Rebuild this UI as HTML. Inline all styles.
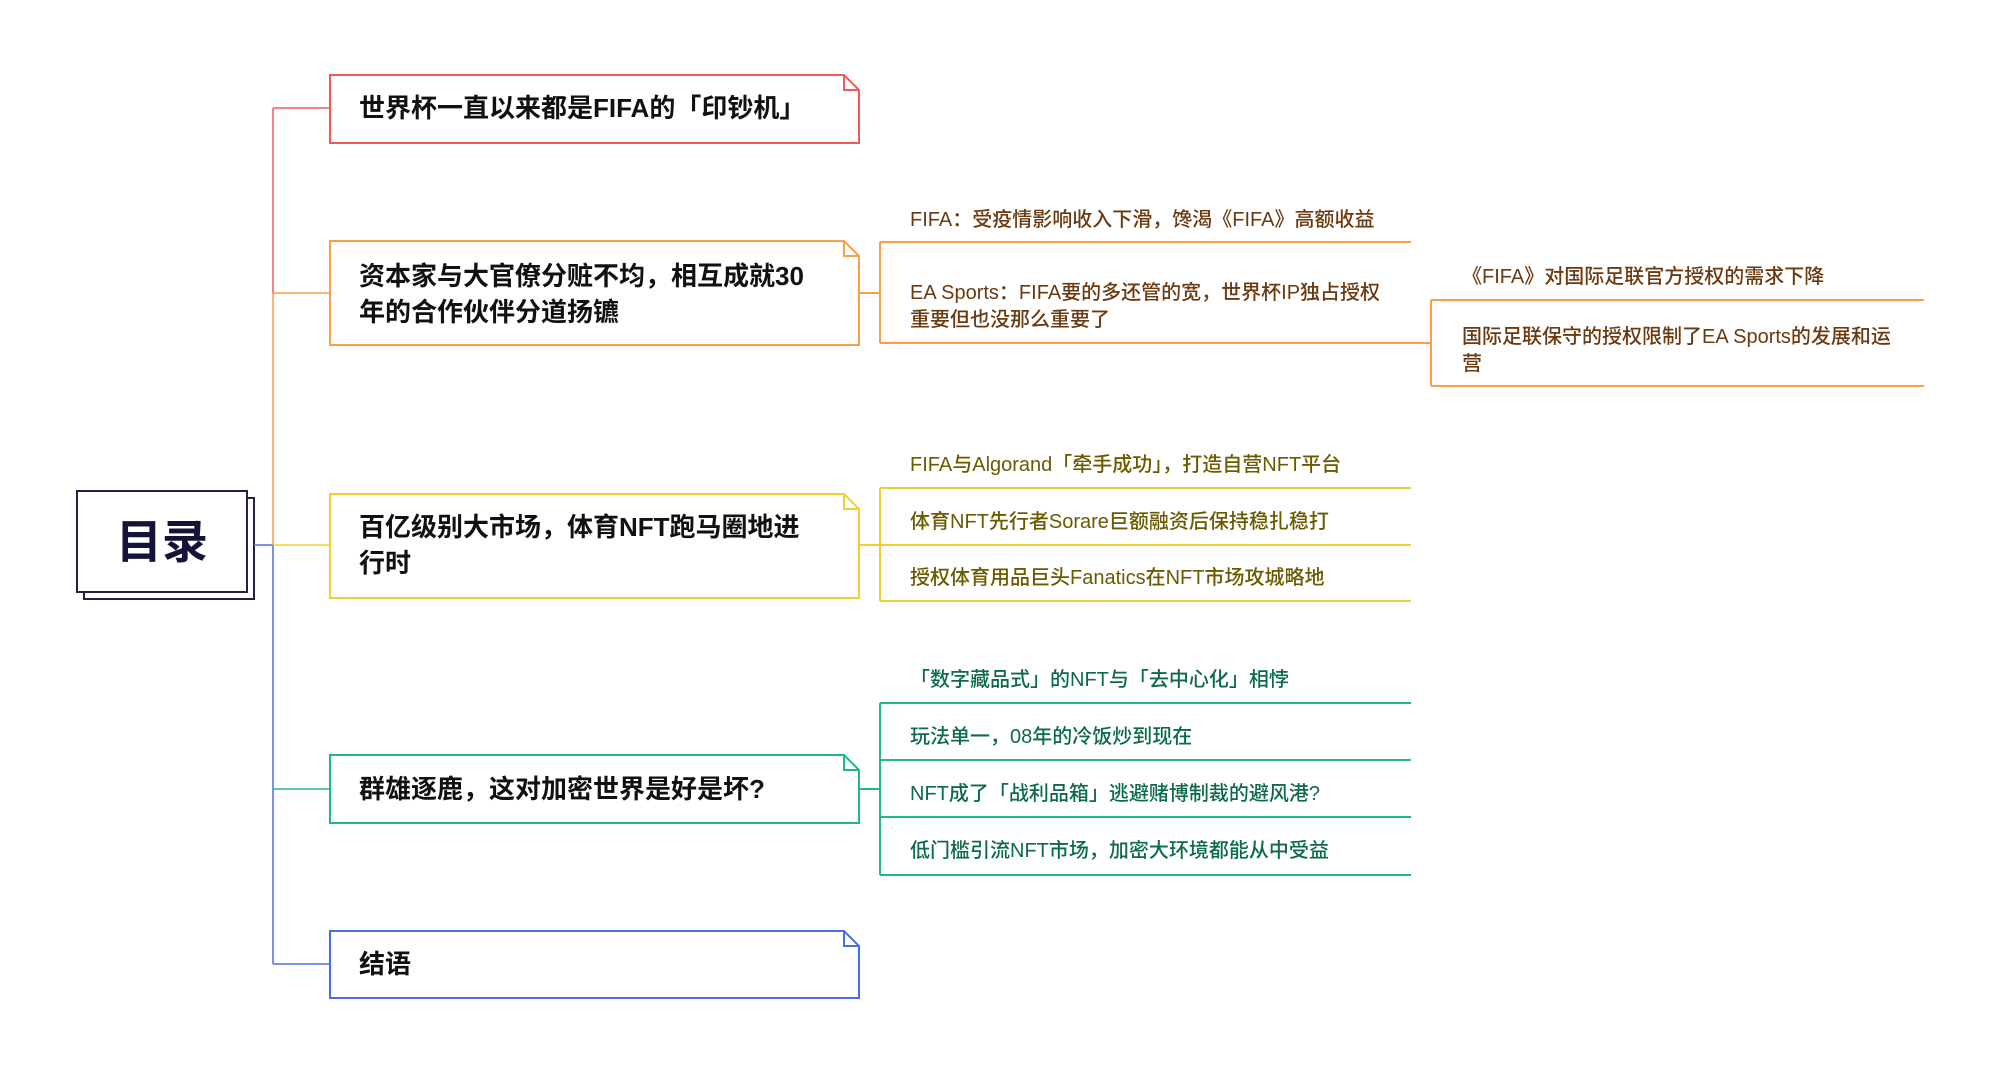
<!DOCTYPE html>
<html><head><meta charset="utf-8"><style>
html,body{margin:0;padding:0;background:#fff;}
svg{display:block;}
text{font-family:"Liberation Sans","Noto Sans CJK SC",sans-serif;dominant-baseline:central;}
.m{font-size:26px;font-weight:bold;fill:#111;}
.s{font-size:20px;font-weight:500;}
</style></head><body>
<svg width="1998" height="1072" viewBox="0 0 1998 1072" xmlns="http://www.w3.org/2000/svg">
<!-- root -->
<rect x="84" y="498" width="170" height="101" fill="#fff" stroke="#222244" stroke-width="2"/>
<rect x="77" y="491" width="170" height="101" fill="#fff" stroke="#222244" stroke-width="2"/>
<text x="162" y="542" text-anchor="middle" style="font-size:46px;font-weight:bold;fill:#141438">目录</text>
<!-- trunk -->
<line x1="254" y1="545" x2="273" y2="545" stroke="#4a6ee8" stroke-width="1.5"/>
<line x1="273" y1="108" x2="273" y2="293" stroke="#f05a5a" stroke-width="1.5"/>
<line x1="273" y1="293" x2="273" y2="545" stroke="#f5a04a" stroke-width="1.5"/>
<line x1="273" y1="545" x2="273" y2="964" stroke="#4a6ee8" stroke-width="1.5"/>
<line x1="273" y1="108" x2="329" y2="108" stroke="#f05a5a" stroke-width="1.5"/>
<line x1="273" y1="293" x2="329" y2="293" stroke="#f5a04a" stroke-width="1.5"/>
<line x1="273" y1="545" x2="329" y2="545" stroke="#f0d030" stroke-width="1.5"/>
<line x1="273" y1="789" x2="329" y2="789" stroke="#20b88a" stroke-width="1.5"/>
<line x1="273" y1="964" x2="329" y2="964" stroke="#4a6ee8" stroke-width="1.5"/>
<!-- boxes -->
<g fill="#fff" stroke-width="2">
<path d="M330 75 H844 L859 90 V143 H330 Z M844 75 V90 H859" stroke="#f05a5a"/>
<path d="M330 241 H844 L859 256 V345 H330 Z M844 241 V256 H859" stroke="#f5a04a"/>
<path d="M330 494 H844 L859 509 V598 H330 Z M844 494 V509 H859" stroke="#f0d030"/>
<path d="M330 755 H844 L859 770 V823 H330 Z M844 755 V770 H859" stroke="#20b88a"/>
<path d="M330 931 H844 L859 946 V998 H330 Z M844 931 V946 H859" stroke="#4a6ee8"/>
</g>
<text class="m" x="359" y="108">世界杯一直以来都是FIFA的「印钞机」</text>
<text class="m" x="359" y="276">资本家与大官僚分赃不均，相互成就30</text>
<text class="m" x="359" y="312">年的合作伙伴分道扬镳</text>
<text class="m" x="359" y="527">百亿级别大市场，体育NFT跑马圈地进</text>
<text class="m" x="359" y="563">行时</text>
<text class="m" x="359" y="789">群雄逐鹿，这对加密世界是好是坏?</text>
<text class="m" x="359" y="964">结语</text>
<!-- orange group -->
<g stroke="#f5a04a" stroke-width="2" fill="none">
<path d="M859 293 H880 M880 242 V343 M880 242 H1411 M880 343 H1431 M1431 300 V386 M1431 300 H1924 M1431 386 H1924"/>
</g>
<g fill="#6b3a10">
<text class="s" x="910" y="220">FIFA：受疫情影响收入下滑，馋渴《FIFA》高额收益</text>
<text class="s" x="910" y="293">EA Sports：FIFA要的多还管的宽，世界杯IP独占授权</text>
<text class="s" x="910" y="320">重要但也没那么重要了</text>
<text class="s" x="1462" y="277">《FIFA》对国际足联官方授权的需求下降</text>
<text class="s" x="1462" y="337">国际足联保守的授权限制了EA Sports的发展和运</text>
<text class="s" x="1462" y="364">营</text>
</g>
<!-- yellow group -->
<g stroke="#f0d030" stroke-width="2" fill="none">
<path d="M859 545 H880 M880 488 V601 M880 488 H1411 M880 545 H1411 M880 601 H1411"/>
</g>
<g fill="#6b5a00">
<text class="s" x="910" y="465">FIFA与Algorand「牵手成功」，打造自营NFT平台</text>
<text class="s" x="910" y="522">体育NFT先行者Sorare巨额融资后保持稳扎稳打</text>
<text class="s" x="910" y="578">授权体育用品巨头Fanatics在NFT市场攻城略地</text>
</g>
<!-- teal group -->
<g stroke="#20b88a" stroke-width="2" fill="none">
<path d="M859 789 H880 M880 703 V875 M880 703 H1411 M880 760 H1411 M880 817 H1411 M880 875 H1411"/>
</g>
<g fill="#0d6b4a">
<text class="s" x="910" y="680">「数字藏品式」的NFT与「去中心化」相悖</text>
<text class="s" x="910" y="737">玩法单一，08年的冷饭炒到现在</text>
<text class="s" x="910" y="794">NFT成了「战利品箱」逃避赌博制裁的避风港?</text>
<text class="s" x="910" y="851">低门槛引流NFT市场，加密大环境都能从中受益</text>
</g>
</svg>
</body></html>
